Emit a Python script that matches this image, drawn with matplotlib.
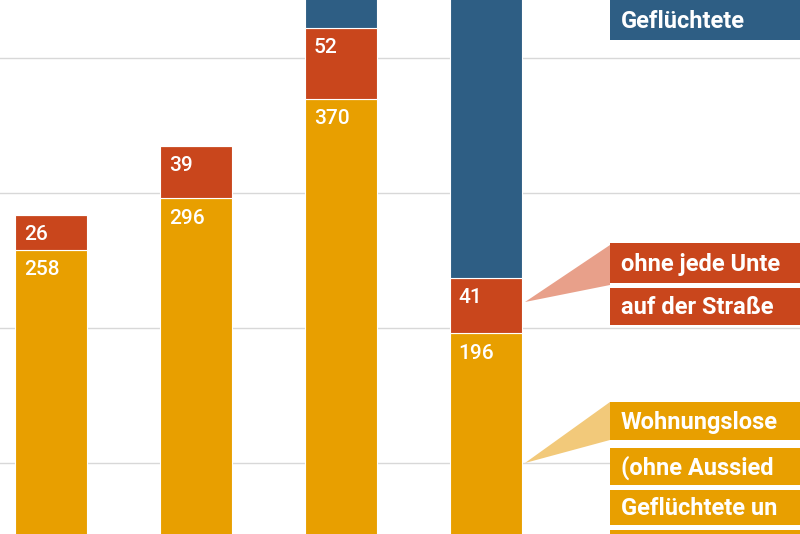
import matplotlib
matplotlib.use("Agg")
import matplotlib.pyplot as plt
from matplotlib.patches import Polygon, Rectangle

positions = [0, 1, 2, 3]
wohnungslos = [258, 296, 370, 196]
strasse = [26, 39, 52, 41]
gefluechtete = [0, 0, 120, 440]

ORANGE = "#E89F00"; RED = "#C9461C"; BLUE = "#2E5E84"
plt.rcParams['font.family'] = ['Roboto', 'DejaVu Sans']

fig = plt.figure(figsize=(8, 5.34), dpi=100)
ax = fig.add_axes([0, 0, 1, 1])
ax.set_xlim(-0.352, 5.166)
ax.set_ylim(47.4, 443)
ax.axis('off')
for g in [100, 200, 300, 400]:
    ax.axhline(g, color="#d8d8d8", lw=1, zorder=0)
w = 72/145
ax.bar(positions, wohnungslos, width=w, color=ORANGE, edgecolor="white", lw=0.8, zorder=2)
ax.bar(positions, strasse, bottom=wohnungslos, width=w, color=RED, edgecolor="white", lw=0.8, zorder=2)
bot2 = [a+b for a, b in zip(wohnungslos, strasse)]
ax.bar(positions, gefluechtete, bottom=bot2, width=w, color=BLUE, edgecolor="white", lw=0.8, zorder=2)
for p, a, b in zip(positions, wohnungslos, strasse):
    ax.text(p - w/2 + 0.06, a - 7.5, str(a), color="white", fontsize=15, fontweight="medium", va="top", ha="left", zorder=3)
    ax.text(p - w/2 + 0.06, a + b - 7.5, str(b), color="white", fontsize=15, fontweight="medium", va="top", ha="left", zorder=3)

ov = fig.add_axes([0, 0, 1, 1], facecolor="none")
ov.set_xlim(0, 800); ov.set_ylim(534, 0); ov.axis('off')
ov.add_patch(Polygon([[525, 302], [610, 245], [610, 285]], color="#E8A08A", lw=0))
ov.add_patch(Polygon([[525, 463], [610, 402], [610, 440]], color="#F2C97A", lw=0))
boxes = [(0, 40, BLUE, "Geflüchtete"),
         (243, 283, RED, "ohne jede Unte"),
         (288, 325, RED, "auf der Straße"),
         (402, 440, ORANGE, "Wohnungslose"),
         (448, 485, ORANGE, "(ohne Aussied"),
         (490, 525, ORANGE, "Geflüchtete un"),
         (530, 570, ORANGE, "")]
for y0, y1, c, t in boxes:
    ov.add_patch(Rectangle((610, y0), 200, y1 - y0, color=c, lw=0))
    ov.text(621, (y0 + y1)/2 + 1, t, color="white", fontsize=17, fontweight="bold",
            va="center", ha="left", clip_on=True)
fig.savefig("out.png", dpi=100)
